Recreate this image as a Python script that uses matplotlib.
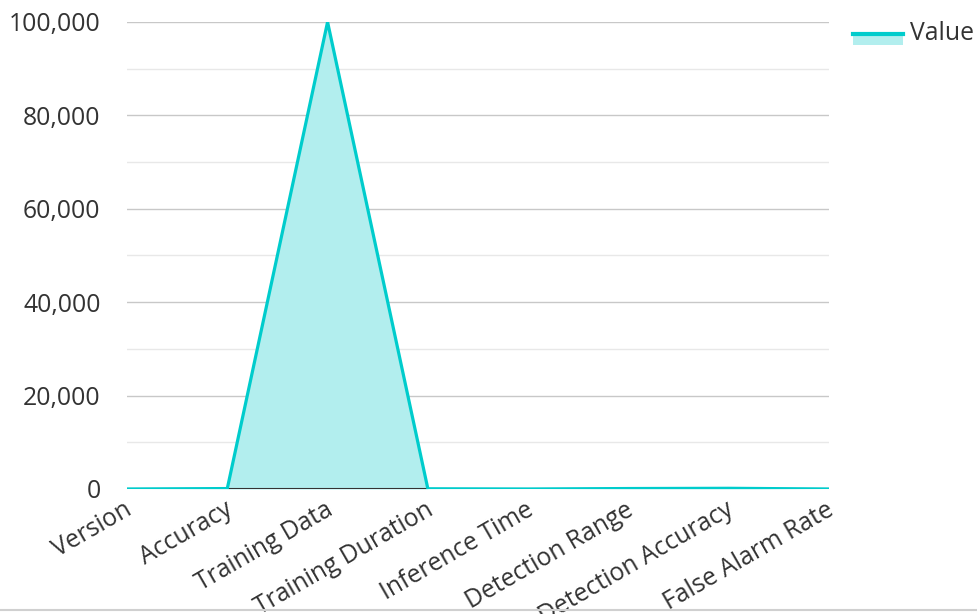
import numpy as np
import matplotlib
matplotlib.use("Agg")
import matplotlib.pyplot as plt
from matplotlib.patches import Rectangle
from matplotlib.lines import Line2D
from matplotlib.ticker import FuncFormatter, MultipleLocator
from matplotlib.transforms import ScaledTranslation

plt.rcParams['font.family'] = ['Open Sans', 'DejaVu Sans']

# Data
categories = ["Version", "Accuracy", "Training Data", "Training Duration",
              "Inference Time", "Detection Range", "Detection Accuracy", "False Alarm Rate"]
values = [1, 95, 100000, 48, 0.05, 100, 150, 2]

line_col = "#00cccc"
fill_col = "#b2eeee"

fig = plt.figure(figsize=(9.78, 6.14), dpi=100)
ax = fig.add_axes([127 / 978, 1 - 489 / 614, (829 - 127) / 978, (489 - 22) / 614])

x = np.arange(len(categories))
ax.fill_between(x, values, 0, color=fill_col, lw=0, zorder=2)
ax.axhline(0, color="#333333", lw=1.5, zorder=2.5)
ax.plot(x, values, color=line_col, lw=2.3, zorder=3, solid_joinstyle="miter")

ax.set_xlim(0, len(categories) - 1)
ax.set_ylim(0, 100000)
ax.yaxis.set_major_locator(MultipleLocator(20000))
ax.yaxis.set_minor_locator(MultipleLocator(10000))
ax.yaxis.set_major_formatter(FuncFormatter(lambda v, p: f"{int(v):,}"))
ax.grid(axis="y", which="major", color="#c8c8c8", lw=1, zorder=0)
ax.grid(axis="y", which="minor", color="#e8e8e8", lw=1, zorder=0)
ax.set_axisbelow(True)

ax.set_xticks(x)
ax.set_xticklabels(categories, rotation=30, ha="right", rotation_mode="anchor")
ax.tick_params(axis="both", which="both", length=0, labelsize=17.8, colors="#333333")
ax.tick_params(axis="y", pad=19)
ax.tick_params(axis="x", pad=6)
shift = ScaledTranslation(-3 / 100, 0, fig.dpi_scale_trans)
for lab in ax.get_xticklabels():
    lab.set_transform(lab.get_transform() + shift)
for s in ax.spines.values():
    s.set_visible(False)

# legend
fig.add_artist(Rectangle((853 / 978, 1 - 45 / 614), 50 / 978, 12 / 614,
                         transform=fig.transFigure, color=fill_col, lw=0))
fig.add_artist(Line2D([853 / 978, 903 / 978], [1 - 34 / 614, 1 - 34 / 614],
                      transform=fig.transFigure, color=line_col, lw=3))
fig.text(910 / 978, 1 - 34 / 614, "Value", fontsize=17.8, color="#333333", va="center", ha="left")

# bottom border
fig.add_artist(Line2D([0, 1], [1 - 610 / 614, 1 - 610 / 614],
                      transform=fig.transFigure, color="#d0d0d0", lw=1.5))

fig.savefig("out.png", dpi=100)
